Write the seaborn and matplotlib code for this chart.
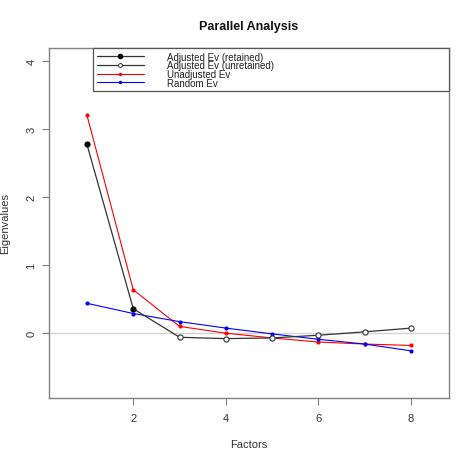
import matplotlib
matplotlib.use("Agg")
import matplotlib.pyplot as plt
from matplotlib.lines import Line2D
import seaborn as sns
import pandas as pd

factors = [1, 2, 3, 4, 5, 6, 7, 8]
adjusted_ev = [2.77, 0.35, -0.07, -0.09, -0.08, -0.04, 0.01, 0.065]
unadjusted_ev = [3.20, 0.63, 0.09, -0.01, -0.08, -0.14, -0.17, -0.19]
random_ev = [0.43, 0.28, 0.16, 0.065, -0.02, -0.10, -0.17, -0.27]
n_retained = 2
legend_labels = ["Adjusted Ev (retained)", "Adjusted Ev (unretained)", "Unadjusted Ev", "Random Ev"]
x_ticks = [2, 4, 6, 8]
y_ticks = [0, 1, 2, 3, 4]

sns.set_style("white")
plt.rcParams['font.family'] = ['Liberation Sans', 'DejaVu Sans']

df = pd.DataFrame({"Factors": factors, "Adjusted": adjusted_ev,
                   "Unadjusted": unadjusted_ev, "Random": random_ev})
ret = df.iloc[:n_retained]
unret = df.iloc[n_retained:]

fig = plt.figure(figsize=(4.74, 4.60), dpi=100)
ax = fig.add_axes([49/474, 1 - 398.7/460, 400/474, 349.7/460])

ax.axhline(0, color="#d3d3d3", lw=1, zorder=0)

sns.lineplot(data=df, x="Factors", y="Unadjusted", color="red", lw=0.8,
             marker="o", markersize=3, markeredgewidth=0, ax=ax)
sns.lineplot(data=df, x="Factors", y="Random", color="blue", lw=0.8,
             marker="o", markersize=3, markeredgewidth=0, ax=ax)
sns.lineplot(data=df, x="Factors", y="Adjusted", color="#333333", lw=0.9, ax=ax)
sns.scatterplot(data=ret, x="Factors", y="Adjusted", color="black", s=20,
                edgecolor="black", linewidth=0, ax=ax, zorder=5)
sns.scatterplot(data=unret, x="Factors", y="Adjusted", facecolor="white", s=14,
                edgecolor="#333333", linewidth=0.8, ax=ax, zorder=5)

ax.set_xlim(0.18, 8.82)
ax.set_ylim(-0.96, 4.19)
ax.set_xticks(x_ticks)
ax.set_yticks(y_ticks)
ax.set_xticklabels([str(v) for v in x_ticks], fontsize=8, color="#333333")
ax.set_yticklabels([str(v) for v in y_ticks], fontsize=8, color="#333333",
                   rotation=90, va="center")
ax.tick_params(axis="both", length=5, width=0.8, color="#808080",
               bottom=True, left=True)
ax.tick_params(axis="x", pad=6)
ax.tick_params(axis="y", pad=4)
for s in ax.spines.values():
    s.set_color("#808080")
    s.set_linewidth(1)

ax.set_xlabel("Factors", fontsize=8, color="#333333")
ax.set_ylabel("Eigenvalues", fontsize=8, color="#333333")
ax.xaxis.set_label_coords(0.5, -0.118)
ax.yaxis.set_label_coords(-0.098, 0.5)
ax.set_title("Parallel Analysis", fontsize=9, fontweight="bold", color="#111111", pad=14)

handles = [
    Line2D([], [], color="#333333", lw=0.9, marker="o", markersize=3,
           markerfacecolor="black", markeredgecolor="black"),
    Line2D([], [], color="#333333", lw=0.9, marker="o", markersize=2.8,
           markerfacecolor="white", markeredgecolor="#333333", markeredgewidth=0.7),
    Line2D([], [], color="red", lw=0.8, marker="o", markersize=2.5, markeredgewidth=0),
    Line2D([], [], color="blue", lw=0.8, marker="o", markersize=2.5, markeredgewidth=0),
]
leg = ax.legend(handles, legend_labels, loc="upper left",
                bbox_to_anchor=(0.11, 0.877, 0.89, 0.123), mode="expand",
                fontsize=7, handlelength=4.8, handletextpad=2.4,
                labelspacing=-0.15, borderpad=0.4, borderaxespad=0,
                frameon=True, fancybox=False, framealpha=1)
leg.get_frame().set_edgecolor("#555555")
leg.get_frame().set_linewidth(0.9)
for t in leg.get_texts():
    t.set_color("#222222")

fig.savefig("out.png", dpi=100)
